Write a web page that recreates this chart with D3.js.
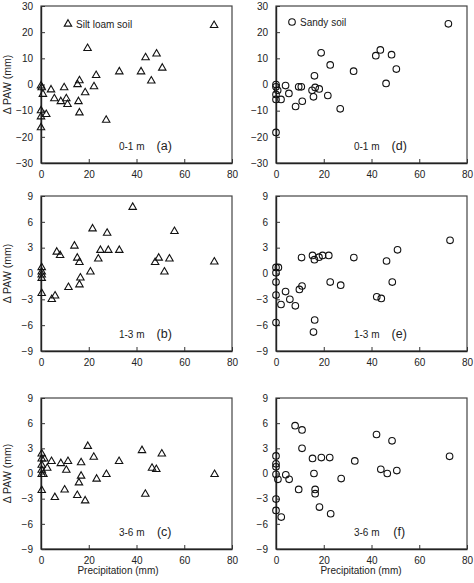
<!DOCTYPE html>
<html>
<head>
<meta charset="utf-8">
<script src="https://cdn.jsdelivr.net/npm/d3@7"></script>
<style>
  body { margin: 0; background: #fff; }
  svg { display: block; font-family: "Liberation Sans", Arial, sans-serif; }
</style>
</head>
<body>
<svg id="chart" width="474" height="583"></svg>
<script>
// Tick labels
const xTicks = [0, 20, 40, 60, 80];
const yTicksTop = [-30, -20, -10, 0, 10, 20, 30];
const yTicksDeep = [-9, -6, -3, 0, 3, 6, 9];
const depthLabels = ['0-1 m', '1-3 m', '3-6 m'];
const panelLetters = [['(a)', '(b)', '(c)'], ['(d)', '(e)', '(f)']];
const soilNames = ['Silt loam soil', 'Sandy soil'];

// Silt loam soil
const precipA = [0, 0.3, 0.8, 0, 0, 0, 2.2, 4.2, 5.6, 8.3, 9.7, 10.6, 11.1, 15.3, 16.1, 15.7, 16.1, 18.5, 19.5, 22.2, 23.1, 27.3, 32.8, 41.9, 43.8, 46.2, 48.4, 50.8, 72.5];
const pawA = [-0.5, -1.2, -3.7, -10, -12.3, -16.5, -11.4, -2, -5.4, -6.5, -1.2, -5.4, -7.6, 0, 1.5, -6.5, -10.8, -3.1, 13.8, -0.8, 3.5, -13.6, 4.9, 4.9, 10.3, 1.4, 11.7, 6.3, 22.6];

const precipB = [0.3, 0.3, 0.3, 0.3, 0.3, 4.5, 5.9, 6.6, 8, 11.5, 14, 15.2, 16.1, 16.5, 16.1, 20.7, 21.6, 24, 24.9, 27.7, 28.2, 32.8, 38.4, 47.8, 49.3, 51.7, 53.8, 55.9, 72.6];
const pawB = [0.7, 0.2, -0.15, -0.55, -2.3, -3.0, -2.6, 2.5, 2.1, -1.6, 3.2, 1.8, 1.3, -0.5, -1.3, 0.2, 5.2, 1.7, 2.7, 4.7, 2.7, 2.7, 7.7, 1.3, 1.8, 0.2, 1.7, 4.9, 1.35];

const precipC = [0.3, 0.3, 0.3, 0.3, 0.3, 0.3, 1.4, 1, 2.6, 4.4, 5.8, 8.3, 9.9, 10.6, 11.3, 15.2, 15.9, 16.8, 16.8, 18.5, 19.6, 22.1, 23.3, 27.4, 32.7, 42.3, 43.7, 46.5, 48.3, 50.6, 72.7];
const pawC = [2.35, 1.75, 1, 0.4, -0.1, -2, 1.75, -0.1, 0.65, 1.45, -2.85, 1.2, -1.95, 0.4, 1.45, -2.6, -1.1, 1.3, -0.3, -3.25, 3.25, 1.95, -0.65, -0.1, 1.45, 2.75, -2.45, 0.65, 0.5, 2.35, -0.1];

// Sandy soil
const precipD = [0, 0, 0, 0, 0, 0.7, 2.1, 4, 5.4, 8.2, 9.5, 10.6, 11, 15.1, 15.7, 16.1, 16.4, 18.1, 18.9, 21.7, 22.7, 26.9, 32.5, 41.8, 43.7, 46.1, 48.4, 50.4, 72.2];
const pawD = [0, -0.9, -3.8, -5.7, -18.3, -2.2, -5.7, -0.4, -3.4, -8.4, -0.9, -0.9, -6.4, -2.2, -4.7, 3.3, -1.1, -1.7, 12.1, -4.2, 7.5, -9.3, 5.1, 11, 13.2, 0.4, 11.4, 5.9, 23.2];

const precipE = [0, 1, 0, 0, 0, 0, 2.1, 4, 5.8, 8.1, 9.8, 10.9, 10.7, 15.3, 16.1, 18, 19.5, 22.1, 16.2, 15.7, 22.7, 27.1, 32.6, 42.2, 44.1, 46.3, 48.7, 50.9, 72.9];
const pawE = [0.7, 0.7, 0.1, -1, -2.5, -5.7, -3.6, -2.1, -3, -3.75, -1.85, -1.45, 1.85, 2.1, 1.6, 1.9, 2.1, 2.1, -5.4, -6.8, -1, -1.35, 1.85, -2.7, -2.9, 1.45, -1, 2.75, 3.85];

const precipF = [0, 0, 0, 0, 0, 0, 0.8, 2.2, 4.1, 5.5, 8, 9.5, 10.9, 10.9, 15.3, 15.9, 16.4, 16.4, 18.2, 19, 22.5, 22.9, 27.3, 33, 42.1, 43.9, 46.6, 48.6, 50.6, 72.7];
const pawF = [2.1, 1.15, 0.8, -0.1, -3.05, -4.4, -0.7, -5.2, -0.15, -0.7, 5.7, -1.9, 5.2, 3, 1.8, 0, -1.9, -2.4, -4, 1.9, 1.9, -4.8, -0.6, 1.5, 4.65, 0.5, 0, 3.9, 0.35, 2.05];

const series = [
    [[precipA, pawA], [precipB, pawB], [precipC, pawC]],
    [[precipD, pawD], [precipE, pawE], [precipF, pawF]],
];

// Layout
const cols = [{left: 41, right: 232}, {left: 276, right: 467}];
const rows = [{top: 6, bottom: 163}, {top: 196, bottom: 351}, {top: 398, bottom: 549}];
const textColor = '#222';

const svg = d3.select('#chart');

const triangle = d3.symbol().type(d3.symbolTriangle).size(24);

function drawPanel(ci, ri) {
    const col = cols[ci], row = rows[ri];
    const [xs, ys] = series[ci][ri];
    const yTicks = ri === 0 ? yTicksTop : yTicksDeep;

    const x = d3.scaleLinear().domain([0, 80]).range([col.left, col.right]);
    const y = d3.scaleLinear().domain([yTicks[0], yTicks[yTicks.length - 1]]).range([row.bottom, row.top]);

    const g = svg.append('g').attr('class', `panel-${ci}-${ri}`);

    // frame
    g.append('rect')
        .attr('x', col.left).attr('y', row.top)
        .attr('width', col.right - col.left).attr('height', row.bottom - row.top)
        .style('fill', 'none').style('stroke', '#444').style('stroke-width', 1.2);

    const styleAxis = sel => {
        sel.selectAll('.domain').style('stroke', '#222').style('stroke-width', 1.4);
        sel.selectAll('line').style('stroke', '#333');
        sel.selectAll('text').style('font-size', '10px').style('fill', textColor)
            .style('font-family', '"Liberation Sans", Arial, sans-serif');
    };

    g.append('g')
        .attr('transform', `translate(0,${row.bottom})`)
        .call(d3.axisBottom(x).tickValues(xTicks).tickSizeInner(-4).tickSizeOuter(0).tickPadding(8))
        .call(styleAxis);

    g.append('g')
        .attr('transform', `translate(${col.left},0)`)
        .call(d3.axisLeft(y).tickValues(yTicks).tickSizeInner(-4).tickSizeOuter(0).tickPadding(8))
        .call(styleAxis);

    const pts = xs.map((v, i) => ({p: v, d: ys[i]}));
    if (ci === 0) {
        g.selectAll('path.pt').data(pts).enter().append('path')
            .attr('class', 'pt')
            .attr('d', triangle)
            .attr('transform', d => `translate(${x(d.p)},${y(d.d)})`)
            .style('fill', 'none').style('stroke', '#111').style('stroke-width', 1.1);
    } else {
        g.selectAll('circle.pt').data(pts).enter().append('circle')
            .attr('class', 'pt')
            .attr('cx', d => x(d.p)).attr('cy', d => y(d.d))
            .attr('r', 3.3)
            .style('fill', 'none').style('stroke', '#111').style('stroke-width', 1.1);
    }

    // depth and panel labels
    const w = col.right - col.left;
    g.append('text')
        .attr('x', col.left + 0.475 * w).attr('y', row.bottom - 13)
        .attr('text-anchor', 'middle')
        .style('font-size', '10px').style('fill', textColor)
        .text(depthLabels[ri]);
    g.append('text')
        .attr('x', col.left + 0.645 * w).attr('y', row.bottom - 13)
        .attr('text-anchor', 'middle')
        .style('font-size', '12.5px').style('fill', textColor)
        .text(panelLetters[ci][ri]);

    // y title on left column
    if (ci === 0) {
        g.append('text')
            .attr('transform', `translate(11,${(row.top + row.bottom) / 2}) rotate(-90)`)
            .attr('text-anchor', 'middle')
            .style('font-size', '10.5px').style('fill', textColor)
            .text('Δ PAW (mm)');
    }

    // legend in top row
    if (ri === 0) {
        const lx = ci === 0 ? col.left + 27 : col.left + 16;
        const ly = ci === 0 ? row.top + 18 : row.top + 16;
        if (ci === 0) {
            g.append('path').attr('d', triangle).attr('transform', `translate(${lx},${ly})`)
                .style('fill', 'none').style('stroke', '#111').style('stroke-width', 1.1);
        } else {
            g.append('circle').attr('cx', lx).attr('cy', ly).attr('r', 3.3)
                .style('fill', 'none').style('stroke', '#111').style('stroke-width', 1.1);
        }
        g.append('text')
            .attr('x', lx + 8).attr('y', ly + 3.5)
            .style('font-size', '10px').style('fill', textColor)
            .text(soilNames[ci]);
    }

    // x title under bottom row
    if (ri === 2) {
        g.append('text')
            .attr('x', ci === 0 ? 118 : 361).attr('y', 574)
            .attr('text-anchor', 'middle')
            .style('font-size', '10px').style('fill', textColor)
            .text('Precipitation (mm)');
    }
}

cols.forEach((c, ci) => rows.forEach((r, ri) => drawPanel(ci, ri)));
</script>
</body>
</html>
